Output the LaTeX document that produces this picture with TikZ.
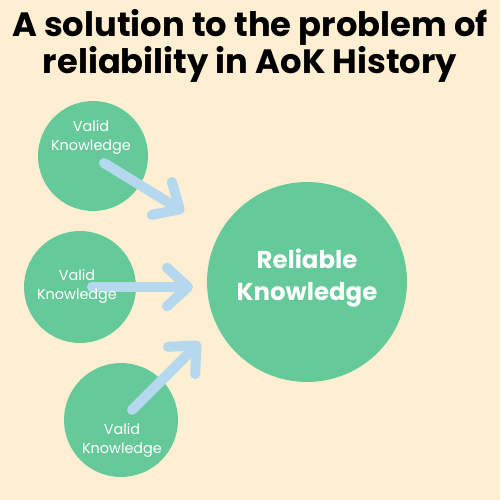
\documentclass[tikz,border=0pt]{standalone}
\usepackage{fontspec}
\setmainfont{Poppins}
\usetikzlibrary{positioning,arrows.meta}
\definecolor{cream}{HTML}{FEEFD3}
\definecolor{leaf}{HTML}{66C999}
\definecolor{sky}{HTML}{B5D8EE}

\begin{document}
\begin{tikzpicture}[x=0.02cm,y=-0.02cm,
		bubble/.style={circle,fill=leaf,inner sep=0pt,minimum size=#1},
		small label/.style={text=white,align=center,font=\fontsize{8.2}{10.8}\selectfont},
		big label/.style={text=white,align=center,font=\bfseries\fontsize{13.9}{18}\selectfont},
		link/.style={sky,line width=5.7pt,line cap=round,
			-{Straight Barb[length=12pt,width=22pt,round]}}]
		\useasboundingbox (0,0) rectangle (500,500);
		\fill [cream] (0,0) rectangle (500,500);
		% title
		\node (title) at (250,46) [align=center,font=\bfseries\fontsize{19.2}{20}\selectfont] {A solution to the problem of\\reliability in AoK History};
		% circles
		\node (v1) at (93,156) [bubble=2.2cm] {};
		\node (v2) at (80,287) [bubble=2.24cm] {};
		\node (v3) at (121,420) [bubble=2.28cm] {};
		\node (rk) at (307,282) [bubble=4cm] {};
		% arrows
		\coordinate (s1) at (104,163);
		\coordinate (e1) at (184,212);
		\coordinate (s2) at (92,287);
		\coordinate (e2) at (193,287);
		\coordinate (s3) at (132,410);
		\coordinate (e3) at (200,342);
		\draw [link] (s1) -- (e1);
		\draw [link] (s2) -- (e2);
		\draw [link] (s3) -- (e3);
		% labels
		\node (t1) at (91,137) [small label] {Valid\\Knowledge};
		\node (t2) at (77,286) [small label] {Valid\\Knowledge};
		\node (t3) at (122,440) [small label] {Valid\\Knowledge};
		\node (tr) at (307,278) [big label] {Reliable\\Knowledge};
\end{tikzpicture}
\end{document}
